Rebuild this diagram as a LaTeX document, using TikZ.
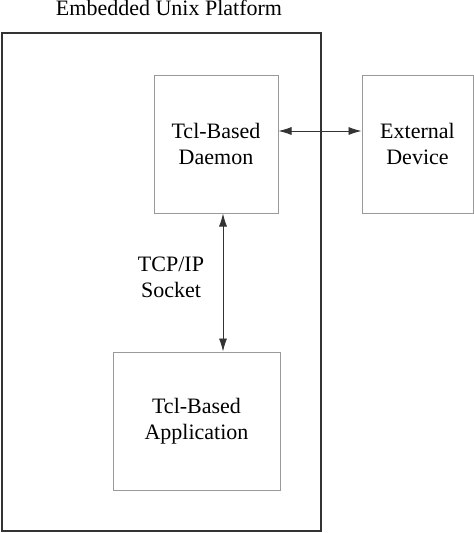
\documentclass[tikz,border=0pt]{standalone}
\usepackage{fontspec}
\setmainfont{Liberation Serif}
\usepackage{tikz}
\usetikzlibrary{arrows.meta}
\usetikzlibrary{positioning}
\tikzset{blockbox/.style = {draw = black!40, line width = 1pt, align = center, inner sep = 0},
         platformbox/.style = {draw = black!80, line width = 2pt, inner sep = 0},
         link/.style = {draw = black!80, line width = 0.8pt, {Latex[length=13pt, width=8pt]}-{Latex[length=13pt, width=8pt]}},
         lbl/.style = {font = \fontsize{22}{26}\selectfont, align = center, inner sep = 0}}

\begin{document}
\begin{tikzpicture}[x = 1pt, y = -1pt]
    \useasboundingbox (0, 0) rectangle (474, 533);

    \node [platformbox, minimum width = 319, minimum height = 498] (platform) at (161.5, 282) {};
    \node [lbl, anchor = base] (title) at (169, 15) {Embedded Unix Platform};

    \node [blockbox, lbl, draw = black!40, minimum width = 124, minimum height = 138] (daemon) at (216, 144) {Tcl-Based\\Daemon};
    \node [blockbox, lbl, draw = black!40, minimum width = 111, minimum height = 138] (device) at (417.5, 144) {External\\Device};
    \node [blockbox, lbl, draw = black!40, minimum width = 167, minimum height = 138] (app) at (196.5, 421) {Tcl-Based\\Application};

    \coordinate (hlink) at (0, 131);
    \coordinate (vlink) at (223, 0);
    \draw [link] (daemon.east |- hlink) -- (device.west |- hlink);
    \draw [link] (daemon.south -| vlink) -- (app.north -| vlink);
    \node [lbl] (socket) at (171, 277) {TCP/IP\\Socket};
  \end{tikzpicture}
\end{document}
